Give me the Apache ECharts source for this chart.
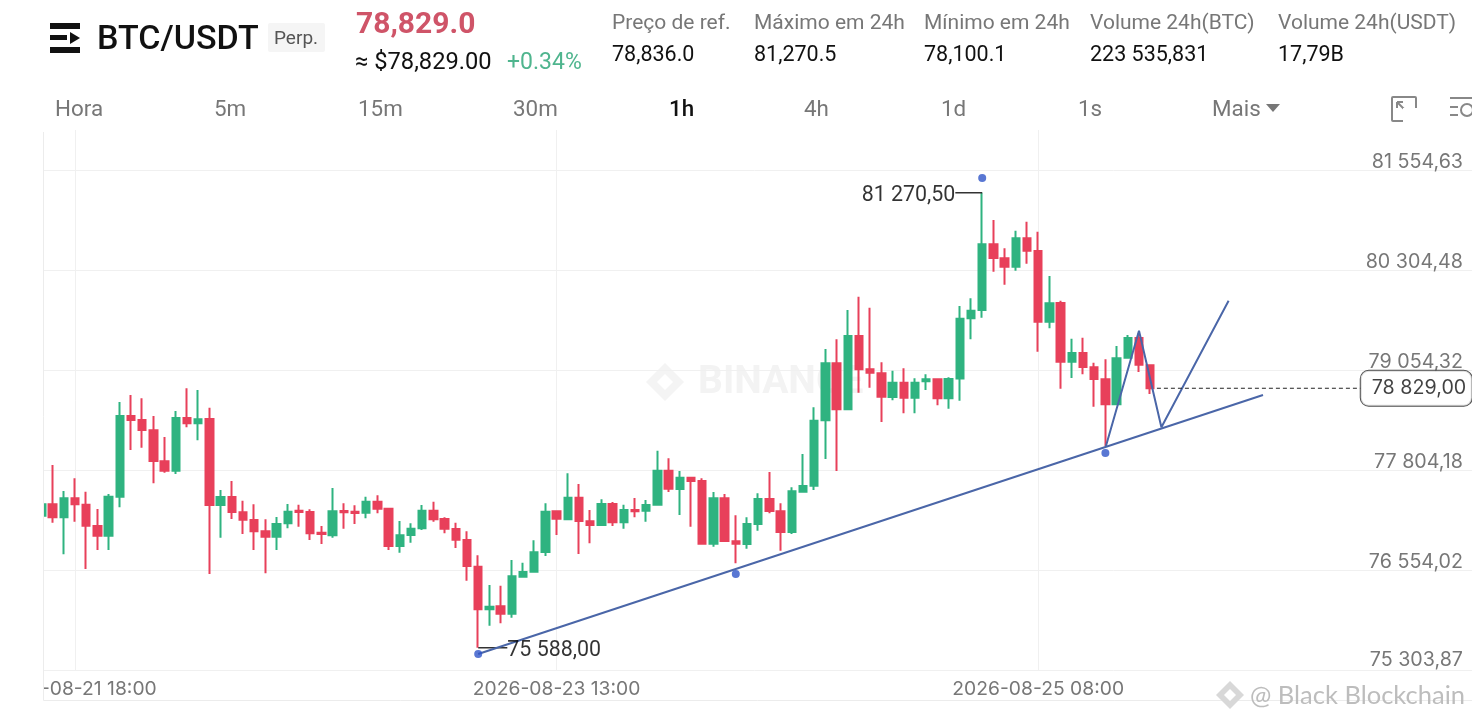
<!DOCTYPE html>
<html><head><meta charset="utf-8">
<style>html,body{margin:0;padding:0;background:#fff}#c{width:1472px;height:720px}</style>
<script src="https://cdn.jsdelivr.net/npm/echarts@6/dist/echarts.min.js"></script>
</head><body><div id="c"></div>
<script>
// open, close, low, high
const candles = [
[77237,77379,77208,77408],[77379,77217,77149,77870],[77217,77454,76755,77545],[77454,77379,77162,77704],
[77374,77112,76571,77537],[77108,76987,76808,77321],[76987,77474,76808,77508],[77474,78482,77342,78657],
[78482,78432,78058,78744],[78432,78307,78086,78703],[78303,77920,77642,78482],[77916,77799,77774,78220],
[77799,78457,77758,78545],[78457,78391,78341,78828],[78391,78441,78179,78807],[78445,77371,76509,78586],
[77371,77470,76962,77558],[77470,77283,77196,77670],[77279,77187,77008,77424],[77183,77042,76808,77379],
[77042,76975,76517,77192],[76975,77133,76808,77221],[77142,77287,77080,77383],[77299,77283,77099,77374],
[77283,77017,76933,77317],[77025,77008,76883,77108],[76992,77292,76962,77583],[77296,77279,77075,77392],
[77287,77271,77133,77367],[77274,77412,77204,77474],[77412,77324,77267,77492],[77324,76858,76808,77333],
[76858,76992,76775,77171],[76996,77075,76900,77142],[77080,77299,77058,77371],[77299,77192,77162,77412],
[77196,77075,77017,77217],[77071,76937,76833,77149],[76933,76609,76425,77042],[76600,76068,75588,76742],
[76068,76100,75863,76371],[76105,76013,75893,76363],[76013,76480,75963,76684],[76475,76534,76471,76650],
[76538,76780,76538,76930],[76784,77287,76734,77392],[77292,77199,76996,77292],[77192,77462,77192,77766],
[77462,77171,76759,77633],[77167,77121,76892,77308],[77121,77383,77121,77442],[77383,77154,77108,77408],
[77154,77308,77075,77374],[77308,77292,77217,77458],[77299,77371,77162,77433],[77374,77799,77374,78049],
[77799,77574,77533,77954],[77570,77712,77246,77795],[77712,77670,77099,77712],[77670,76887,76887,77704],
[76887,77454,76850,77533],[77454,76921,76921,77508],[76917,76887,76642,77242],[76883,77133,76825,77217],
[77133,77446,77050,77517],[77446,77296,77267,77783],[77292,77033,76800,77392],[77033,77542,77008,77592],
[77537,77608,77524,78008],[77612,78424,77558,78591],[78428,79140,77945,79319],[79140,78566,77795,79440],
[78566,79481,78566,79806],[79481,79065,78773,79972],[79065,79023,78836,79835],[79015,78723,78407,79153],
[78720,78898,78678,79048],[78898,78711,78516,79078],[78711,78898,78516,78953],[78916,78941,78807,79003],
[78941,78703,78616,78953],[78703,78944,78573,78966],[78950,79697,78673,79856],[79702,79797,79440,79952],
[79806,80627,79710,81270.5],[80627,80456,80285,80930],[80452,80347,80122,80577],[80347,80702,80297,80797],
[80702,80547,80384,80909],[80543,79660,79285,80784],[79660,79890,79578,80231],[79894,79160,78823,79922],
[79160,79269,78957,79448],[79269,79094,79003,79460],[79090,78944,78598,79148],[78941,78628,78108,79190],
[78628,79203,78628,79356],[79210,79456,79210,79494],[79456,79123,79032,79515],[79116,78829,78757,79116]
];
const priceTicks = [75303.87,76554.02,77804.18,79054.32,80304.48,81554.63];
const timeLabelIndexes = [3,46,89];
const categories = [];
for (let i = 0; i < 129; i++) {
  const d = new Date(Date.UTC(2026,7,21,15+i));
  categories.push(d.toISOString().slice(0,16).replace('T',' '));
}
const trendLine = [[39,75510],[109.07,78745]];
const zigzagLine = [[95.05,78108],[98,79548],[100,78341],[106,79923]];
const drawnDots = [[39,75510],[84,81455],[62,76509],[95,78020]];
const highNote = [[84,81270.5],[81.6,81270.5]];
const lowNote = [[39,75588],[41.6,75588]];
const lastPrice = 78829;
const lastPriceLine = [[99.6,lastPrice],[117.8,lastPrice]];
const headerStats = [
  ['Preço de ref.','78,836.0',612],['Máximo em 24h','81,270.5',754],['Mínimo em 24h','78,100.1',924],
  ['Volume 24h(BTC)','223 535,831',1090],['Volume 24h(USDT)','17,79B',1278]
];
const tabs = [['Hora',55],['5m',214],['15m',358],['30m',513],['1h',669],['4h',804],['1d',941],['1s',1078],['Mais',1212]];

const fmt = v => { const s = v.toFixed(2).replace('.',','); return s.slice(0,2)+' '+s.slice(2); };
const HEAD = 'Roboto, sans-serif';
const AX = 'Inter, sans-serif';
const T = (x,y,text,size,fill,weight,family,extra) => Object.assign({type:'text',x,y,z:120,style:{text,fill,font:(weight||400)+' '+size+'px '+(family||HEAD),textVerticalAlign:'middle',textBaseline:'middle'}},extra||{});
const R = (x,y,w,h,fill,z,r) => ({type:'rect',z:z==null?120:z,shape:{x,y,width:w,height:h,r:r||0},style:{fill}});
const L = (x1,y1,x2,y2,stroke,w,z) => ({type:'line',z:z==null?120:z,shape:{x1,y1,x2,y2},style:{stroke,lineWidth:w}});
const O = (x,y,w,h,stroke) => ({type:'rect',z:120,shape:{x,y,width:w,height:h,r:1},style:{fill:'none',stroke,lineWidth:2}});
const diamond = (cx,cy,s,fill,z) => ({type:'polygon',z,shape:{points:[[cx,cy-s],[cx+s,cy],[cx,cy+s],[cx-s,cy]]},style:{fill}});

const gfx = [
  R(0,130,43,590,'#fff',100),
  L(43.5,132,43.5,700.5,'#ececec',1,101),
  L(43.5,700.5,1472,700.5,'#ececec',1,101),
  // watermark in the chart
  diamond(665,382,19,'#f4f4f4',-1), diamond(665,382,8,'#fff',-1),
  T(698,383,'BINANCE',39,'#f3f3f3',700,HEAD,{z:-1}),
  // header
  R(50,23,30,6,'#111'), R(50,47,30,6,'#111'), R(50,35,17,5,'#111'),
  {type:'polygon',z:120,shape:{points:[[70,32],[80,38],[70,44]]},style:{fill:'#111'}},
  T(97,40,'BTC/USDT',34,'#111',500),
  R(268,23,57,29,'#f5f5f5',119,2),
  T(274,39,'Perp.',19,'#555'),
  T(356,25,'78,829.0',30,'#cf5468',700),
  T(355,63,'≈ $78,829.00',23.7,'#111'),
  T(507,63,'+0.34%',23,'#4fb58e'),
  {type:'polygon',z:120,shape:{points:[[1266,104],[1280,104],[1273,112]]},style:{fill:'#777'}},
  // tool icons
  O(1392,97,24,24,'#888'), R(1403,108,14,14,'#fff',121), O(1405,110,10,10,'#888'),
  L(1397,102,1404,109,'#888',2), L(1397,108,1397,102,'#888',2), L(1397,102,1403,102,'#888',2),
  L(1450,98,1472,98,'#888',2), L(1450,107,1458,107,'#888',2), L(1450,115,1458,115,'#888',2),
  {type:'circle',z:120,shape:{cx:1467,cy:110,r:6},style:{fill:'none',stroke:'#888',lineWidth:2}},
  // author mark
  diamond(1230,695,14,'#d8d8d8',120), diamond(1230,695,6,'#fff',121),
  T(1250,696,'@ Black Blockchain',25.5,'#bdbdbd',400,'Lato, sans-serif')
];
headerStats.forEach(s => {
  gfx.push(T(s[2],24,s[0],21,'#777'));
  gfx.push(T(s[2],55.5,s[1],21.5,'#111'));
});
tabs.forEach(t => gfx.push(T(t[1],110,t[0],22.4,t[0]==='1h'?'#111':'#777',t[0]==='1h'?500:400)));

const BLUE = '#4a66a8';
const lineSeries = (data,color,width,extra) => Object.assign({
  type:'line',xAxisIndex:1,yAxisIndex:0,data,showSymbol:false,symbol:'none',animation:false,silent:true,
  lineStyle:{color,width},z:5
},extra||{});
const noteLabel = (data,pos) => ({
  type:'scatter',xAxisIndex:1,yAxisIndex:0,data:[data],symbolSize:0,animation:false,silent:true,z:7,
  label:{show:true,position:pos,distance:0,offset:[0,3],formatter:p=>fmt(p.value[1]),color:'#000',fontFamily:HEAD,fontSize:21.4}
});

const chart = echarts.init(document.getElementById('c'),null,{renderer:'canvas'});
chart.setOption({
  animation:false,
  backgroundColor:'#fff',
  grid:{left:35.8,width:1444.8,top:130,height:540.5,containLabel:false,outerBoundsMode:'none'},
  xAxis:[{
    type:'category',data:categories,boundaryGap:true,
    axisLine:{show:false},axisTick:{show:false},
    splitLine:{show:true,alignWithLabel:true,interval:i=>timeLabelIndexes.includes(i),lineStyle:{color:'#f0f0f0',width:1}},
    axisLabel:{interval:i=>timeLabelIndexes.includes(i),color:'#777',fontFamily:AX,fontSize:19.3,margin:9,hideOverlap:false}
  },{type:'value',min:-0.5,max:128.5,show:false}],
  yAxis:{
    type:'value',position:'right',min:75303.87,max:82054.6,scale:true,
    axisLine:{show:false},
    axisTick:{show:false,customValues:priceTicks},
    splitLine:{show:true,lineStyle:{color:'#f0f0f0',width:1}},
    axisLabel:{inside:true,customValues:priceTicks,margin:17.6,color:'#777',fontFamily:AX,fontSize:19.7,
      verticalAlign:'bottom',lineHeight:16,
      rich:{low:{padding:[0,0,4,0],color:'#777',fontFamily:AX,fontSize:19.7,lineHeight:16}},
      formatter:v=>{const t=priceTicks.reduce((a,b)=>Math.abs(b-v)<Math.abs(a-v)?b:a);return t===priceTicks[0]?'{low|'+fmt(t)+'}':fmt(t);}}
  },
  series:[
    {type:'candlestick',data:candles,barWidth:8,z:3,animation:false,silent:true,
     itemStyle:{color:'#2fb380',color0:'#e8405a',borderColor:'#2fb380',borderColor0:'#e8405a',borderColorDoji:'#e8405a',borderWidth:2}},
    lineSeries(highNote,'#333',1.5),
    lineSeries(lowNote,'#333',1.5),
    lineSeries(trendLine,BLUE,2),
    lineSeries(zigzagLine,BLUE,2),
    lineSeries(lastPriceLine,'#222',1,{lineStyle:{color:'#222',width:1,type:[4,3]}}),
    {type:'scatter',xAxisIndex:1,yAxisIndex:0,data:drawnDots,symbolSize:8,itemStyle:{color:'#2f55c8'},animation:false,silent:true,z:6},
    noteLabel(highNote[1],'left'),
    noteLabel(lowNote[1],'right'),
    {type:'scatter',xAxisIndex:1,yAxisIndex:0,data:[lastPriceLine[1]],symbolSize:0,animation:false,silent:true,z:8,
     label:{show:true,position:'right',distance:0,formatter:p=>fmt(p.value[1]),color:'#111',fontFamily:AX,fontSize:19.7,
       backgroundColor:'#fff',borderColor:'#222',borderWidth:1,borderRadius:8,padding:[8,8,7,11],width:92,lineHeight:20}}
  ],
  graphic:{elements:gfx}
});
</script></body></html>
